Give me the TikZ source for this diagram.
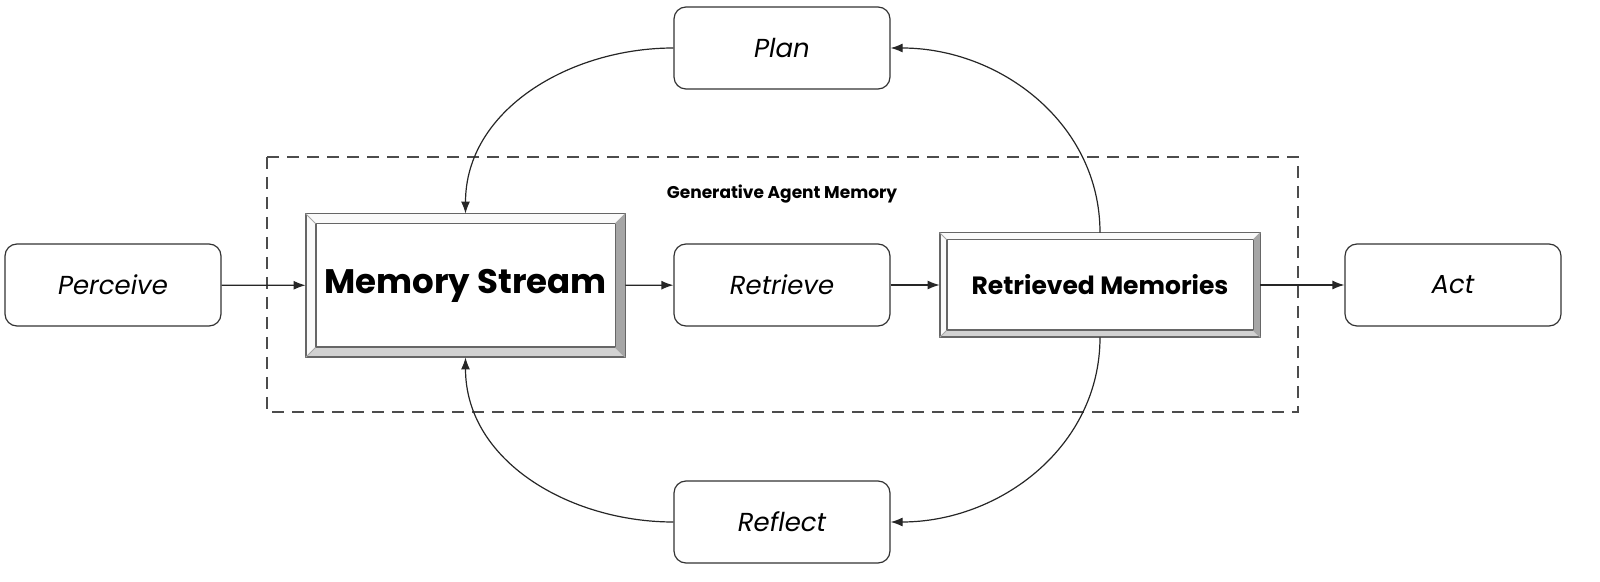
\documentclass[tikz,border=0pt]{standalone}
\usepackage{fontspec}
\setmainfont{Poppins}
\usetikzlibrary{arrows.meta,calc}
\newcommand{\mybevel}[2]{%
  \fill[gray!4] (#1.north west) -- (#1.north east) -- ($(#1.north east)+(-#2,#2)$) -- ($(#1.north west)+(#2,#2)$) -- cycle;
  \fill[gray!4] (#1.north west) -- ($(#1.north west)+(#2,#2)$) -- ($(#1.south west)+(#2,-#2)$) -- (#1.south west) -- cycle;
  \fill[gray!70] (#1.north east) -- (#1.south east) -- ($(#1.south east)+(-#2,-#2)$) -- ($(#1.north east)+(-#2,#2)$) -- cycle;
  \fill[gray!35] (#1.south west) -- (#1.south east) -- ($(#1.south east)+(-#2,-#2)$) -- ($(#1.south west)+(#2,-#2)$) -- cycle;
  \draw[gray!80!black, line width=0.9pt] (#1.north west) rectangle (#1.south east);
  \draw[gray!80!black, line width=0.9pt] ($(#1.north west)+(#2,#2)$) rectangle ($(#1.south east)+(-#2,-#2)$);
  \draw[gray!70, line width=0.4pt] (#1.north west) -- ($(#1.north west)+(#2,#2)$) (#1.north east) -- ($(#1.north east)+(-#2,#2)$)
     (#1.south west) -- ($(#1.south west)+(#2,-#2)$) (#1.south east) -- ($(#1.south east)+(-#2,-#2)$);
}
\begin{document}
\begin{tikzpicture}[x=0.5pt,y=-0.5pt,
  rbox/.style={draw=black!80, line width=0.6pt, rounded corners=6pt, minimum width=108pt, minimum height=41pt, font=\itshape\fontsize{13}{15}\selectfont},
  bbox/.style={inner sep=0pt},
  arr/.style={-{Latex[length=6pt,width=4.5pt]}, line width=0.6pt, black!85}]
\useasboundingbox (0,0) rectangle (1600,582);
\draw[dashed, dash pattern=on 6pt off 4pt, line width=1pt, black!70] (267,157) rectangle (1298,412);
\node[font=\bfseries\fontsize{8.5}{10}\selectfont] (gam) at (782,194) {Generative Agent Memory};
\node[rbox] (perceive) at (113,285) {Perceive};
\node[rbox] (retrieve) at (782,285) {Retrieve};
\node[rbox] (act) at (1453,285) {Act};
\node[rbox] (plan) at (782,48) {Plan};
\node[rbox] (reflect) at (782,522) {Reflect};
\node[bbox, minimum width=159.5pt, minimum height=71.5pt] (ms) at (465.5,285.5) {};
\mybevel{ms}{10}
\node[font=\bfseries\fontsize{17}{20}\selectfont] (mst) at (465.5,285.5) {Memory Stream};
\node[bbox, minimum width=160pt, minimum height=52pt] (rm) at (1100,285) {};
\mybevel{rm}{7}
\node[font=\bfseries\fontsize{12.5}{15}\selectfont] (rmt) at (1100,285) {Retrieved Memories};
\draw[arr] (perceive) -- (ms);
\draw[arr] (ms) -- (retrieve);
\draw[arr] (retrieve) -- (rm);
\draw[arr] (rm) -- (act);
\draw[arr] (plan.west) to[out=180,in=90] (ms.north);
\draw[arr] (rm.north) to[out=90,in=0] (plan.east);
\draw[arr] (rm.south) to[out=-90,in=0] (reflect.east);
\draw[arr] (reflect.west) to[out=180,in=-90] (ms.south);
\end{tikzpicture}
\end{document}
